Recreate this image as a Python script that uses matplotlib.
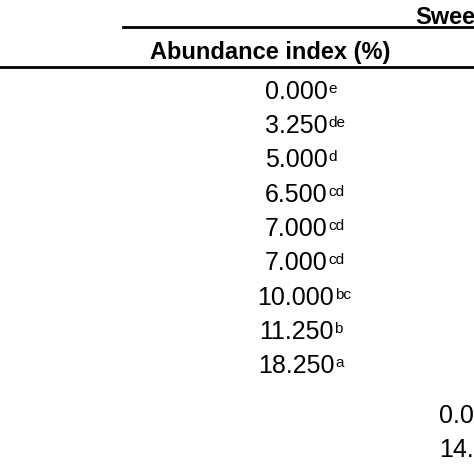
import matplotlib.pyplot as plt

plt.rcParams['font.family'] = ['Liberation Sans', 'DejaVu Sans']

values = ['0.000', '3.250', '5.000', '6.500', '7.000', '7.000', '10.000', '11.250', '18.250']
letters = ['e', 'de', 'd', 'cd', 'cd', 'cd', 'bc', 'b', 'a']
next_values = ['0.0', '14.']

W = H = 474
fig = plt.figure(figsize=(4.74, 4.74), dpi=100)
ax = fig.add_axes([0, 0, 1, 1])
ax.set_xlim(0, W)
ax.set_ylim(H, 0)
ax.axis('off')

ax.text(415, 17, 'Swee', fontsize=17, fontweight='bold', va='center', ha='left')
ax.plot([123, W], [27, 27], color='black', lw=2)
ax.text(270, 52, 'Abundance index (%)', fontsize=17, fontweight='bold', va='center', ha='center')
ax.plot([0, W], [67, 67], color='black', lw=2)

fig.canvas.draw()
renderer = fig.canvas.get_renderer()
inv = ax.transData.inverted()

row_y = [92, 126, 160, 195, 229, 263, 298, 332, 366]
for y, v, l in zip(row_y, values, letters):
    t = ax.text(296, y, v, fontsize=18, va='center', ha='center')
    bb = t.get_window_extent(renderer)
    x1, ytop = inv.transform((bb.x1, bb.y1))
    ax.text(x1 + 1, ytop + 2, l, fontsize=11, va='top', ha='left')

for y, v in zip([416, 450], next_values):
    ax.text(439, y, v, fontsize=18, va='center', ha='left')

fig.savefig('out.png', dpi=100)
